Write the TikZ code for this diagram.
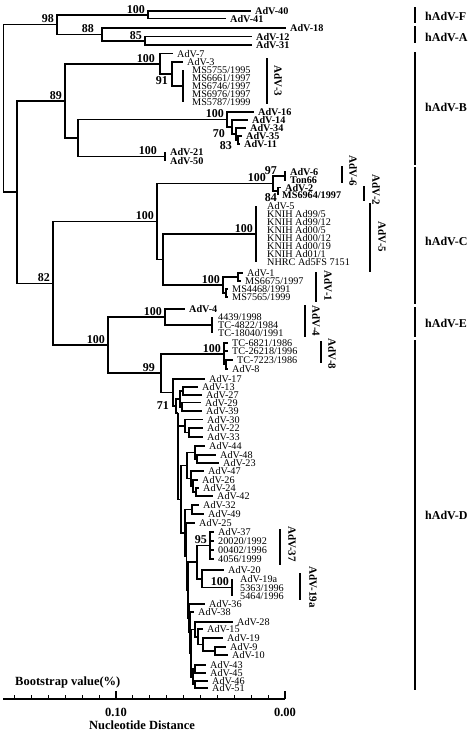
\documentclass[tikz,border=0pt]{standalone}
\usepackage{fontspec}
\setmainfont{Liberation Serif}
\usetikzlibrary{calc}

\begin{document}
\begin{tikzpicture}[x=1pt, y=-1pt,
  br/.style={line width=1.5pt},
  tip/.style={anchor=west, inner xsep=4pt, inner ysep=0pt, text height=7pt, text depth=0pt, font=\fontsize{10.2}{10}\selectfont},
  tipb/.style={tip, font=\fontsize{10.2}{10}\selectfont\bfseries},
  boot/.style={anchor=south east, inner sep=1.5pt, xshift=-1.5pt, text height=8pt, text depth=0pt, font=\fontsize{12}{12}\selectfont\bfseries},
  bar/.style={line width=2.2pt},
  sub/.style={rotate=-90, inner sep=0pt, font=\fontsize{11}{11}\selectfont\bfseries},
  grp/.style={anchor=west, inner sep=0pt, font=\fontsize{12}{12}\selectfont\bfseries},
  axl/.style={inner sep=0pt, font=\fontsize{12.5}{12.5}\selectfont\bfseries}]

\useasboundingbox (0,0) rectangle (474,732);

% --- Helpers: inner node at mid height of two children, and its branches ---
\def\inode#1#2#3#4{\path let \p1=(#3), \p2=(#4) in (#2pt,{(\y1+\y2)/2}) coordinate (#1);}
\def\kids#1#2{\foreach \c in {#2} {\draw[br] (#1) |- (\c);}}

% --- hAdV-F and hAdV-A ---
\node[tipb] (l40) at (251,11) {AdV-40};
\node[tipb] (l41) at (226,18.5) {AdV-41};
\node[tipb] (l18) at (286,28) {AdV-18};
\node[tipb] (l12) at (252,36.5) {AdV-12};
\node[tipb] (l31) at (252,45) {AdV-31};
\inode{n100a}{148}{l40}{l41}
\inode{n85}{145}{l12}{l31}
\inode{n88}{102}{l18}{n85}
\inode{n98}{57}{n100a}{n88}
\kids{n100a}{l40.west,l41.west}
\kids{n85}{l12.west,l31.west}
\kids{n88}{l18.west,n85}
\kids{n98}{n100a,n88}

% --- hAdV-B ---
\node[tip] (l7) at (173,53.5) {AdV-7};
\node[tip] (l3) at (183,62) {AdV-3};
\node[tip, inner xsep=9pt] (m1) at (183,70) {MS5755/1995};
\node[tip, inner xsep=9pt] (m2) at (183,78) {MS6661/1997};
\node[tip, inner xsep=9pt] (m3) at (183,86) {MS6746/1997};
\node[tip, inner xsep=9pt] (m4) at (183,94) {MS6976/1997};
\node[tip, inner xsep=9pt] (m5) at (183,102) {MS5787/1999};
\inode{nms}{183}{m1}{m5}
\inode{n91}{172}{l3}{nms}
\inode{n100b}{160}{l7}{n91}
\kids{nms}{m1.west,m2.west,m3.west,m4.west,m5.west}
\kids{n91}{l3.west,nms}
\kids{n100b}{l7.west,n91}

\node[tipb] (l16) at (254,112) {AdV-16};
\node[tipb] (l14) at (248,120) {AdV-14};
\node[tipb] (l34) at (246,128) {AdV-34};
\node[tipb] (l35) at (242,136) {AdV-35};
\node[tipb] (l11) at (240,144) {AdV-11};
\inode{n83}{238}{l35}{l11}
\inode{n70}{236}{l34}{n83}
\inode{nb3}{232}{l14}{n70}
\inode{n100c}{227}{l16}{nb3}
\kids{n83}{l35.west,l11.west}
\kids{n70}{l34.west,n83}
\kids{nb3}{l14.west,n70}
\kids{n100c}{l16.west,nb3}

\node[tipb, inner xsep=5pt] (l21) at (165,152) {AdV-21};
\node[tipb, inner xsep=5pt] (l50) at (165,161) {AdV-50};
\inode{n100d}{165}{l21}{l50}
\kids{n100d}{l21.west,l50.west}
\inode{nb2}{78}{n100c}{n100d}
\kids{nb2}{n100c,n100d}
\inode{n89}{65}{n100b}{nb2}
\kids{n89}{n100b,nb2}

% --- hAdV-C ---
\node[tipb] (l6) at (286,172) {AdV-6};
\node[tipb] (lton) at (286,180) {Ton66};
\node[tipb] (l2) at (281,187.5) {AdV-2};
\node[tipb] (l6964) at (278,194.5) {MS6964/1997};
\inode{n97}{285}{l6}{lton}
\inode{n84}{278}{l2}{l6964}
\inode{n100e}{273}{n97}{n84}
\kids{n97}{l6.west,lton.west}
\kids{n84}{l2.west,l6964.west}
\kids{n100e}{n97,n84}

\node[tip, inner xsep=11pt] (k0) at (256,206) {AdV-5};
\node[tip, inner xsep=11pt] (k1) at (256,214) {KNIH Ad99/5};
\node[tip, inner xsep=11pt] (k2) at (256,222) {KNIH Ad99/12};
\node[tip, inner xsep=11pt] (k3) at (256,230) {KNIH Ad00/5};
\node[tip, inner xsep=11pt] (k4) at (256,238) {KNIH Ad00/12};
\node[tip, inner xsep=11pt] (k5) at (256,246) {KNIH Ad00/19};
\node[tip, inner xsep=11pt] (k6) at (256,254) {KNIH Ad01/1};
\node[tip, inner xsep=11pt] (k7) at (256,262) {NHRC Ad5FS 7151};
\inode{n100f}{256}{k0}{k7}
\kids{n100f}{k0.west,k1.west,k2.west,k3.west,k4.west,k5.west,k6.west,k7.west}

\node[tip] (l1) at (243,273) {AdV-1};
\node[tip] (l6675) at (241,281) {MS6675/1997};
\node[tip] (l4468) at (228,289) {MS4468/1991};
\node[tip] (l7565) at (228,297) {MS7565/1999};
\inode{ng1}{238}{l1}{l6675}
\inode{ng2}{226}{l4468}{l7565}
\inode{n100g}{223}{ng1}{ng2}
\kids{ng1}{l1.west,l6675.west}
\kids{ng2}{l4468.west,l7565.west}
\kids{n100g}{ng1,ng2}
\inode{nc2}{163}{n100f}{n100g}
\kids{nc2}{n100f,n100g}
\inode{n100C}{157}{n100e}{nc2}
\kids{n100C}{n100e,nc2}

% --- hAdV-E ---
\node[tipb] (l4) at (185,309) {AdV-4};
\node[tip, inner xsep=6pt] (e1) at (212,317) {4439/1998};
\node[tip, inner xsep=6pt] (e2) at (212,325) {TC-4822/1984};
\node[tip, inner xsep=6pt] (e3) at (212,333) {TC-18040/1991};
\inode{ne2}{212}{e1}{e3}
\inode{n100h}{165}{l4}{ne2}
\kids{ne2}{e1.west,e2.west,e3.west}
\kids{n100h}{l4.west,ne2}

% --- AdV-8 group ---
\node[tip] (t1) at (228,343) {TC-6821/1986};
\node[tip] (t2) at (228,351) {TC-26218/1996};
\node[tip] (t3) at (233,360) {TC-7223/1986};
\node[tip] (l8) at (228,369) {AdV-8};
\inode{ni2}{226}{t3}{l8}
\inode{n100i}{224}{t1}{ni2}
\kids{ni2}{t3.west,l8.west}
\kids{n100i}{t1.west,t2.west,ni2}

% --- hAdV-D ---
\node[tip] (l17) at (205,379) {AdV-17};
\node[tip] (l13) at (198,387) {AdV-13};
\node[tip] (l27) at (202,395) {AdV-27};
\node[tip] (l29) at (201,402.5) {AdV-29};
\node[tip] (l39) at (202,411) {AdV-39};
\node[tip] (l30) at (203,419.5) {AdV-30};
\node[tip] (l22) at (203,428) {AdV-22};
\node[tip] (l33) at (203,437) {AdV-33};
\node[tip] (l44) at (205,446) {AdV-44};
\node[tip] (l48) at (216,455) {AdV-48};
\node[tip] (l23) at (219,463) {AdV-23};
\node[tip] (l47) at (204,471) {AdV-47};
\node[tip] (l26) at (198,480) {AdV-26};
\node[tip] (l24) at (199,488) {AdV-24};
\node[tip] (l42) at (213,496) {AdV-42};
\node[tip] (l32) at (199,505) {AdV-32};
\node[tip] (l49) at (204,514) {AdV-49};
\node[tip] (l25) at (195,523) {AdV-25};
\node[tip] (l37) at (214,532) {AdV-37};
\node[tip] (s20020) at (214,541) {20020/1992};
\node[tip] (s00402) at (214,550) {00402/1996};
\node[tip] (s4056) at (214,559) {4056/1999};
\node[tip] (l20) at (224,570) {AdV-20};
\node[tip, inner xsep=8pt] (l19a) at (232,579) {AdV-19a};
\node[tip, inner xsep=8pt] (s5363) at (232,587.5) {5363/1996};
\node[tip, inner xsep=8pt] (s5464) at (232,596) {5464/1996};
\node[tip] (l36) at (205,604) {AdV-36};
\node[tip] (l38) at (194,612) {AdV-38};
\node[tip] (l28) at (233,622) {AdV-28};
\node[tip] (l15) at (203,629) {AdV-15};
\node[tip] (l19) at (223,638) {AdV-19};
\node[tip] (l9) at (226,647) {AdV-9};
\node[tip] (l10) at (228,655) {AdV-10};
\node[tip] (l43) at (206,665) {AdV-43};
\node[tip] (l45) at (206,673) {AdV-45};
\node[tip] (l46) at (208,681) {AdV-46};
\node[tip] (l51) at (208,688) {AdV-51};

\inode{d3}{183}{l13}{l27}
\inode{d4}{182}{l29}{l39}
\inode{d2}{180}{d3}{d4}
\inode{d7}{189}{l22}{l33}
\inode{d6}{185}{l30}{d7}
\inode{d11}{197}{l48}{l23}
\inode{d10}{195}{l44}{d11}
\inode{d14}{196}{l24}{l42}
\inode{d13}{193}{l26}{d14}
\inode{d12}{191}{l47}{d13}
\inode{d9}{187}{d10}{d12}
\inode{d16}{192}{l32}{l49}
\inode{n95}{210}{l37}{s4056}
\inode{n100j}{232}{l19a}{s5464}
\inode{d20}{202}{l20}{n100j}
\inode{d19}{197}{n95}{d20}
\inode{d27}{215}{l9}{l10}
\inode{d26}{203}{l19}{d27}
\inode{d25}{198}{l15}{d26}
\inode{d24}{195}{l28}{d25}
\inode{d29}{195}{l43}{l45}
\inode{d30}{195}{l46}{l51}
\inode{d28}{193}{d29}{d30}
\inode{d23}{191}{d24}{d28}
\inode{d22}{190}{l38}{d23}
\inode{d21}{189}{l36}{d22}
\inode{d18}{188}{d19}{d21}
\inode{d17}{186.5}{l25}{d18}
\inode{d15}{185}{d16}{d17}
\inode{d8}{181}{d9}{d15}
\coordinate (d5) at (178,413);
\inode{d1}{176}{d2}{d5}
\inode{n71}{173}{l17}{d1}

\kids{d3}{l13.west,l27.west}
\kids{d4}{l29.west,l39.west}
\kids{d2}{d3,d4}
\kids{d7}{l22.west,l33.west}
\kids{d6}{l30.west,d7}
\kids{d11}{l48.west,l23.west}
\kids{d10}{l44.west,d11}
\kids{d14}{l24.west,l42.west}
\kids{d13}{l26.west,d14}
\kids{d12}{l47.west,d13}
\kids{d9}{d10,d12}
\kids{d16}{l32.west,l49.west}
\kids{n95}{l37.west,s20020.west,s00402.west,s4056.west}
\kids{n100j}{l19a.west,s5363.west,s5464.west}
\kids{d20}{l20.west,n100j}
\kids{d19}{n95,d20}
\kids{d27}{l9.west,l10.west}
\kids{d26}{l19.west,d27}
\kids{d25}{l15.west,d26}
\kids{d24}{l28.west,d25}
\kids{d29}{l43.west,l45.west}
\kids{d30}{l46.west,l51.west}
\kids{d28}{d29,d30}
\kids{d23}{d24,d28}
\kids{d22}{l38.west,d23}
\kids{d21}{l36.west,d22}
\kids{d18}{d19,d21}
\kids{d17}{l25.west,d18}
\kids{d15}{d16,d17}
\kids{d8}{d9,d15}
\kids{d5}{d6,d8}
\kids{d1}{d2,d5}
\kids{n71}{l17.west,d1}

% --- Deep nodes and root ---
\inode{n99}{161}{n100i}{n71}
\kids{n99}{n100i,n71}
\inode{n100E}{108}{n100h}{n99}
\kids{n100E}{n100h,n99}
\inode{n82}{53}{n100C}{n100E}
\kids{n82}{n100C,n100E}
\inode{nx}{17}{n89}{n82}
\kids{nx}{n89,n82}
\inode{nroot}{3.5}{n98}{nx}
\kids{nroot}{n98,nx}

% --- Bootstrap values ---
\node[boot] (b98) at (n98) {98};
\node[boot] (b100a) at (n100a) {100};
\node[boot, xshift=-5pt] (b88) at (n88) {88};
\node[boot] (b85) at (n85) {85};
\node[boot, xshift=-2pt] (b100b) at (n100b) {100};
\node[boot, anchor=east] (b91) at (171,80) {91};
\node[boot] (b89) at (n89) {89};
\node[boot] (b100c) at (n100c) {100};
\node[boot, anchor=east] (b70) at (228,133) {70};
\node[boot, anchor=east] (b83) at (235,145) {83};
\node[boot, xshift=-5pt] (b100d) at (n100d) {100};
\node[boot, xshift=-5pt] (b97) at (n97) {97};
\node[boot, xshift=-4pt] (b100e) at (n100e) {100};
\node[boot, anchor=east] (b84) at (280,197) {84};
\node[boot] (b100f) at (n100f) {100};
\node[boot] (b100g) at (n100g) {100};
\node[boot] (b100C) at (n100C) {100};
\node[boot] (b82) at (n82) {82};
\node[boot] (b100h) at (n100h) {100};
\node[boot] (b100i) at (n100i) {100};
\node[boot] (b100E) at (n100E) {100};
\node[boot, xshift=-3pt] (b99) at (n99) {99};
\node[boot, anchor=east] (b71) at (172,405) {71};
\node[boot] (b95) at (n95) {95};
\node[boot] (b100j) at (n100j) {100};

% --- Type bars ---
\draw[bar] (267,58) -- (267,104);
\node[sub] (c3) at (278,81) {AdV-3};
\draw[bar] (342,166) -- (342,183);
\node[sub] (c6) at (353,171) {AdV-6};
\draw[bar] (364,186) -- (364,201);
\node[sub] (c2) at (376,190) {AdV-2};
\draw[bar] (370,203) -- (370,272);
\node[sub] (c5) at (382,237) {AdV-5};
\draw[bar] (316,272) -- (316,302);
\node[sub] (c1) at (328,286) {AdV-1};
\draw[bar] (305,305) -- (305,337);
\node[sub] (c4) at (316,321) {AdV-4};
\draw[bar] (321,341) -- (321,363);
\node[sub] (c8) at (332,354) {AdV-8};
\draw[bar] (280,529) -- (280,565);
\node[sub] (c37) at (292,544) {AdV-37};
\draw[bar] (300,573) -- (300,600);
\node[sub] (c19a) at (313,587) {AdV-19a};

% --- Species bars ---
\draw[bar, line width=2pt] (415,7) -- (415,23);
\node[grp] (gF) at (425,16) {hAdV-F};
\draw[bar, line width=2pt] (415,26) -- (415,43);
\node[grp] (gA) at (425,37) {hAdV-A};
\draw[bar, line width=2pt] (415,52) -- (415,165);
\node[grp] (gB) at (425,107) {hAdV-B};
\draw[bar, line width=2pt] (415,167) -- (415,304);
\node[grp] (gC) at (425,241) {hAdV-C};
\draw[bar, line width=2pt] (415,307) -- (415,337);
\node[grp] (gE) at (425,323) {hAdV-E};
\draw[bar, line width=2pt] (415,340) -- (415,690);
\node[grp] (gD) at (425,515) {hAdV-D};

% --- Distance axis ---
\draw[line width=1.4pt] (3,699) -- (285,699);
\foreach \k in {1,...,16}
  \draw[line width=1.1pt] ({285-16.9*\k},699) -- ++(0,-4);
\draw[line width=1.1pt] (116,699) -- ++(0,-8);
\draw[line width=1.1pt] (285,699) -- ++(0,-8);
\node[axl] (x10) at (116,712) {0.10};
\node[axl] (x00) at (285,712) {0.00};
\node[axl] (xlab) at (142,725) {Nucleotide Distance};
\node[axl, anchor=west] (bsv) at (15,682) {Bootstrap value(\%)};

\end{tikzpicture}
\end{document}
